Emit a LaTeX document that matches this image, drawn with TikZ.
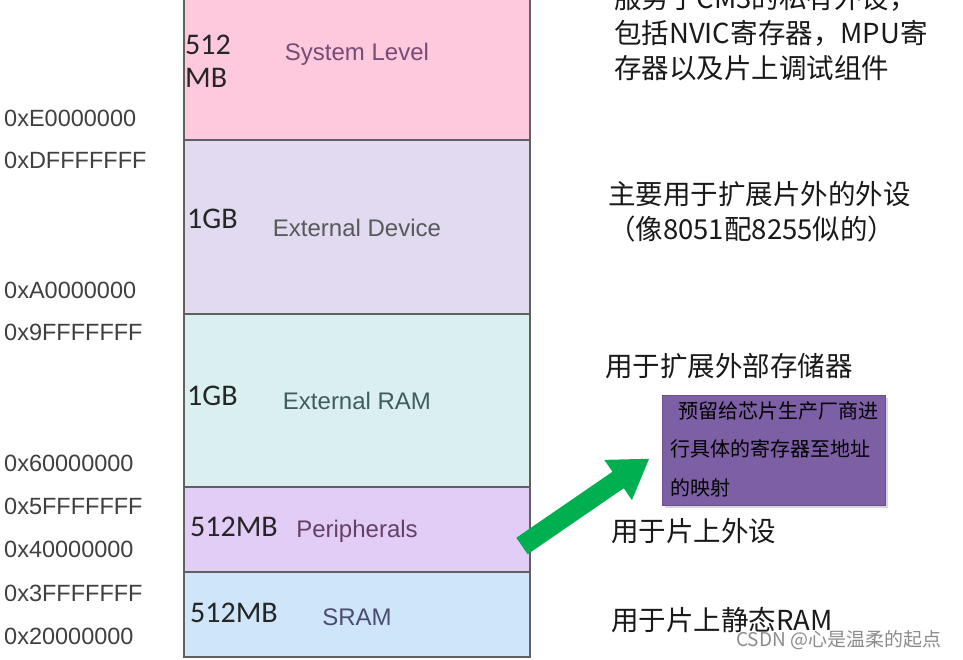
\documentclass[tikz,border=0pt]{standalone}
\usepackage{fontspec}
\setmainfont{Liberation Sans}
\newfontfamily\cjk{Noto Sans CJK SC}
\newfontfamily\calib{Carlito}
\usetikzlibrary{arrows.meta,shadows}
\definecolor{syspink}{HTML}{FFC9DD}
\definecolor{devlav}{HTML}{E1DAF0}
\definecolor{ramcyan}{HTML}{DAF0F0}
\definecolor{perviol}{HTML}{E2CDF6}
\definecolor{srblue}{HTML}{CFE5F9}
\definecolor{notepurple}{HTML}{7D5FA5}
\definecolor{arrowgreen}{HTML}{00B050}
\tikzset{
  region/.style={draw=gray!75!black, line width=1.3pt, minimum width=346pt, inner sep=0pt},
  size/.style={anchor=west, inner sep=0pt, font=\calib\fontsize{30}{33}\selectfont, text=black!85, align=left},
  areaname/.style={inner sep=0pt, font=\fontsize{24}{28}\selectfont},
  hexlbl/.style={anchor=west, inner sep=0pt, font=\fontsize{23.5}{27}\selectfont, text=black!75},
  remark/.style={anchor=west, inner sep=0pt, align=left, font=\cjk\fontsize{27.5}{35}\selectfont, text=black!90},
}
\begin{document}
\begin{tikzpicture}[x=1pt,y=-1pt]
            \useasboundingbox (0,0) rectangle (963,660);
            \clip (0,0) rectangle (963,660);
            \fill[white] (0,0) rectangle (963,660);

            \node[region, fill=syspink, minimum height=200pt] (sys) at (357,40) {};
            \node[region, fill=devlav, minimum height=174pt] (dev) at (357,227) {};
            \node[region, fill=ramcyan, minimum height=173pt] (ram) at (357,400.5) {};
            \node[region, fill=perviol, minimum height=85pt] (per) at (357,529.5) {};
            \node[region, fill=srblue, minimum height=85pt] (sram) at (357,614.5) {};

            \node[size] (s1) at (185,61) {512\\MB};
            \node[size] (s2) at (187,219) {1GB};
            \node[size] (s3) at (187,396) {1GB};
            \node[size] (s4) at (190,527) {512MB};
            \node[size] (s5) at (190,613) {512MB};

            \node[areaname, text=violet!45!black!70] (n1) at (357,54) {System Level};
            \node[areaname, text=black!65] (n2) at (357,228) {External Device};
            \node[areaname, text=teal!30!black!75] (n3) at (357,401) {External RAM};
            \node[areaname, text=violet!40!black!75] (n4) at (357,531) {Peripherals};
            \node[areaname, text=blue!20!black!70] (n5) at (357,617) {SRAM};

            \foreach \y/\t in {118/0xE0000000, 160/0xDFFFFFFF, 290/0xA0000000, 332/0x9FFFFFFF,
                               463/0x60000000, 506/0x5FFFFFFF, 549/0x40000000, 593/0x3FFFFFFF, 636/0x20000000}
                \node[hexlbl] (h\y) at (4,\y) {\t};

            \node[remark] (r1) at (614,33) {服务于CM3的私有外设，\\包括NVIC寄存器，MPU寄\\存器以及片上调试组件};
            \node[remark] (r2) at (608,212) {主要用于扩展片外的外设\\（像8051配8255似的）};
            \node[remark] (r3) at (605,366) {用于扩展外部存储器};
            \node[remark] (r4) at (611,531) {用于片上外设};
            \node[remark] (r5) at (611,620) {用于片上静态RAM};

            \node[fill=notepurple, draw=notepurple!85!black, minimum width=223pt, minimum height=110pt, inner sep=0pt,
                  drop shadow={shadow xshift=3pt, shadow yshift=-3pt, fill=gray!60}] (note) at (773.5,450) {};
            \node[text width=207pt, align=left, inner sep=0pt, font=\cjk\fontsize{20}{38.5}\selectfont, text=black]
                  (notetext) at (773.5,449) {\hspace*{8pt}预留给芯片生产厂商进\\行具体的寄存器至地址\\的映射};

            \coordinate (tail) at (522,546);
            \draw[arrowgreen, line width=20pt, shorten >=15pt, -{Triangle[width=46pt,length=38pt]}] (tail) -- (note.west);

            \node[anchor=west, inner sep=0pt, font=\cjk\fontsize{19}{22}\selectfont, text=black!45] (mark) at (736,640) {CSDN @心是温柔的起点};
        \end{tikzpicture}
\end{document}
